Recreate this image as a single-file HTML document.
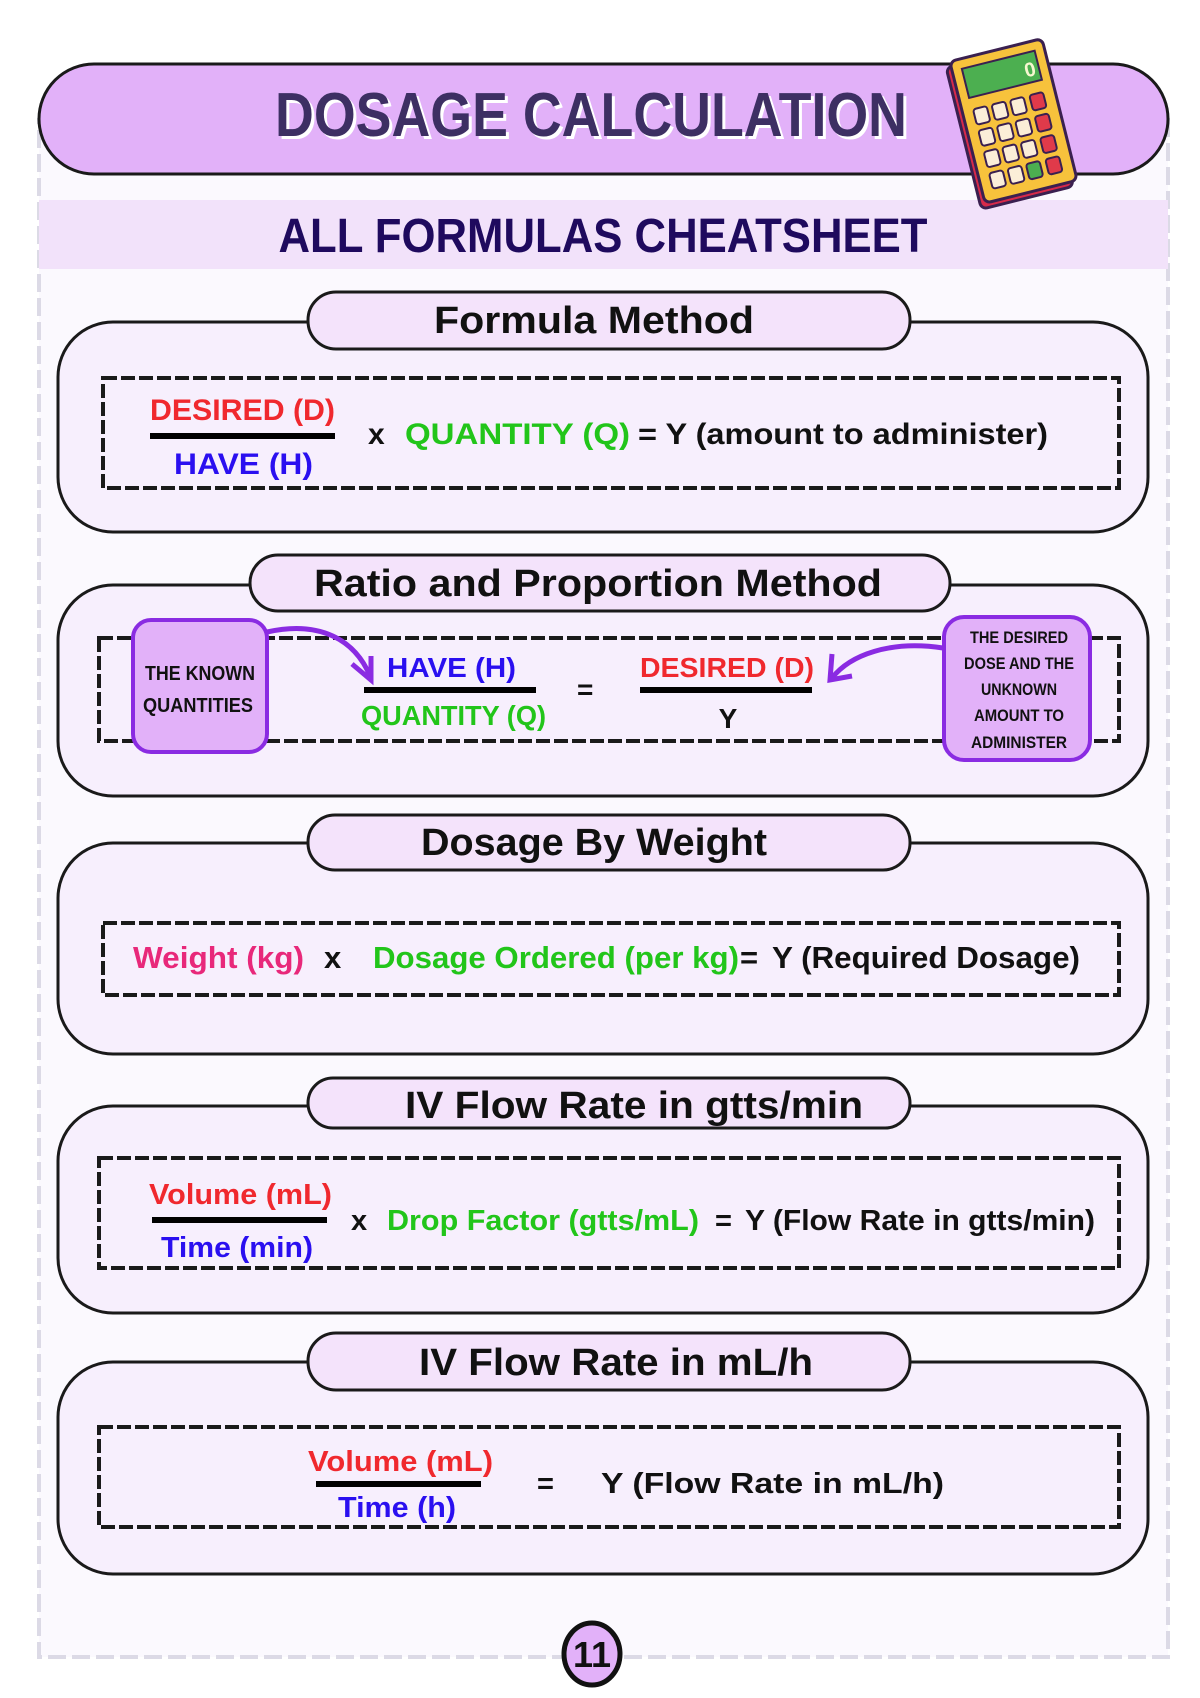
<!DOCTYPE html>
<html><head><meta charset="utf-8"><style>
html,body{margin:0;padding:0;background:#fff;}
svg{display:block;}
text{font-family:"Liberation Sans",sans-serif;}
</style></head><body>
<svg width="1200" height="1698" viewBox="0 0 1200 1698" xmlns="http://www.w3.org/2000/svg">
<!-- page -->
<rect x="39" y="120" width="1129" height="1537" fill="#fbf9fe" stroke="#dcdae6" stroke-width="4" stroke-dasharray="18,6"/>
<!-- header pill -->
<rect x="39" y="64" width="1129" height="110" rx="55" fill="#e2b1f9" stroke="#1a1a1a" stroke-width="3"/>
<text x="594" y="139" font-size="62" font-weight="bold" fill="#fff" text-anchor="middle" textLength="632" lengthAdjust="spacingAndGlyphs">DOSAGE CALCULATION</text>
<text x="591" y="136" font-size="62" font-weight="bold" fill="#3d2f63" text-anchor="middle" textLength="632" lengthAdjust="spacingAndGlyphs">DOSAGE CALCULATION</text>
<!-- band -->
<rect x="39" y="200" width="1129" height="69" fill="#f2e2fa"/>
<text x="603" y="252" font-size="48" font-weight="bold" fill="#1f0a5e" text-anchor="middle" textLength="649" lengthAdjust="spacingAndGlyphs">ALL FORMULAS CHEATSHEET</text>
<!-- calculator -->
<g transform="rotate(-14 1013 121)">
<rect x="961" y="53" width="95" height="146" rx="6" fill="#d62a4a" stroke="#3a2050" stroke-width="3"/>
<rect x="966" y="48" width="95" height="146" rx="6" fill="#f7c23c" stroke="#3a2050" stroke-width="3"/>
<rect x="976" y="58" width="75" height="30" fill="#4caf50" stroke="#3a2050" stroke-width="2"/>
<text x="1042" y="82" font-size="20" font-weight="bold" fill="#f7f7d0" text-anchor="middle">0</text>
<g fill="#fbeed8" stroke="#3a2050" stroke-width="2">
<rect x="977" y="100" width="14" height="16" rx="3"/><rect x="996" y="100" width="14" height="16" rx="3"/><rect x="1015" y="100" width="14" height="16" rx="3"/>
<rect x="977" y="122" width="14" height="16" rx="3"/><rect x="996" y="122" width="14" height="16" rx="3"/><rect x="1015" y="122" width="14" height="16" rx="3"/>
<rect x="977" y="144" width="14" height="16" rx="3"/><rect x="996" y="144" width="14" height="16" rx="3"/><rect x="1015" y="144" width="14" height="16" rx="3"/>
<rect x="977" y="166" width="14" height="16" rx="3"/><rect x="996" y="166" width="14" height="16" rx="3"/>
</g>
<g stroke="#3a2050" stroke-width="2"><rect x="1035" y="100" width="14" height="16" rx="3" fill="#e03a4a"/><rect x="1035" y="122" width="14" height="16" rx="3" fill="#e03a4a"/><rect x="1035" y="144" width="14" height="16" rx="3" fill="#e03a4a"/><rect x="1035" y="166" width="14" height="16" rx="3" fill="#e03a4a"/><rect x="1015" y="166" width="14" height="16" rx="3" fill="#4caf50"/></g>
</g>

<g stroke="#1a1a1a" stroke-width="3">
<!-- section outers -->
<rect x="58" y="322" width="1090" height="210" rx="55" fill="#f7effd"/>
<rect x="58" y="585" width="1090" height="211" rx="55" fill="#f7effd"/>
<rect x="58" y="843" width="1090" height="211" rx="55" fill="#f7effd"/>
<rect x="58" y="1106" width="1090" height="207" rx="55" fill="#f7effd"/>
<rect x="58" y="1362" width="1090" height="212" rx="55" fill="#f7effd"/>
<!-- pills -->
<rect x="308" y="292" width="602" height="57" rx="28" fill="#f4e3fb"/>
<rect x="250" y="555" width="700" height="56" rx="28" fill="#f4e3fb"/>
<rect x="308" y="815" width="602" height="55" rx="27" fill="#f4e3fb"/>
<rect x="308" y="1078" width="602" height="50" rx="25" fill="#f4e3fb"/>
<rect x="308" y="1333" width="602" height="57" rx="28" fill="#f4e3fb"/>
</g>
<g fill="none" stroke="#1a1a1a" stroke-width="4" stroke-dasharray="14,4">
<rect x="103" y="378" width="1016" height="110"/>
<rect x="99" y="638" width="1020" height="103"/>
<rect x="103" y="923" width="1016" height="72"/>
<rect x="99" y="1158" width="1020" height="110"/>
<rect x="99" y="1427" width="1020" height="100"/>
</g>
<!-- titles -->
<g font-size="38" font-weight="bold" fill="#111" text-anchor="middle">
<text x="594" y="333" textLength="320" lengthAdjust="spacingAndGlyphs">Formula Method</text>
<text x="598" y="596" textLength="568" lengthAdjust="spacingAndGlyphs">Ratio and Proportion Method</text>
<text x="594" y="855" textLength="346" lengthAdjust="spacingAndGlyphs">Dosage By Weight</text>
<text x="634" y="1118" textLength="458" lengthAdjust="spacingAndGlyphs">IV Flow Rate in gtts/min</text>
<text x="616" y="1375" textLength="394" lengthAdjust="spacingAndGlyphs">IV Flow Rate in mL/h</text>
</g>
<!-- S1 -->
<g font-size="30" font-weight="bold">
<text x="150" y="420" fill="#f0282e" textLength="185" lengthAdjust="spacingAndGlyphs">DESIRED (D)</text>
<rect x="150" y="433" width="185" height="6" fill="#000"/>
<text x="174" y="474" fill="#2a0ff0" textLength="139" lengthAdjust="spacingAndGlyphs">HAVE (H)</text>
<text x="368" y="444" fill="#111">x</text>
<text x="405" y="444" fill="#22c51a" textLength="225" lengthAdjust="spacingAndGlyphs">QUANTITY (Q)</text>
<text x="638" y="444" fill="#111" textLength="410" lengthAdjust="spacingAndGlyphs">=  Y (amount to administer)</text>
</g>
<!-- S2 -->
<path d="M267 632 C320 620 355 640 370 676" fill="none" stroke="#8a2be2" stroke-width="5"/>
<path d="M352 664 L371 680 L371 656" fill="none" stroke="#8a2be2" stroke-width="5"/>
<path d="M943 648 C890 640 850 655 832 678" fill="none" stroke="#8a2be2" stroke-width="5"/>
<path d="M832 654 L830 680 L852 676" fill="none" stroke="#8a2be2" stroke-width="5"/>
<rect x="133" y="620" width="134" height="132" rx="18" fill="#e2b1f9" stroke="#8a2be2" stroke-width="4"/>
<rect x="944" y="617" width="146" height="143" rx="20" fill="#e2b1f9" stroke="#8a2be2" stroke-width="4"/>
<g font-size="20" font-weight="bold" fill="#111" text-anchor="middle">
<text x="200" y="680" textLength="110" lengthAdjust="spacingAndGlyphs">THE KNOWN</text>
<text x="198" y="712" textLength="110" lengthAdjust="spacingAndGlyphs">QUANTITIES</text>
</g>
<g font-size="17" font-weight="bold" fill="#111" text-anchor="middle">
<text x="1019" y="643" textLength="98" lengthAdjust="spacingAndGlyphs">THE DESIRED</text>
<text x="1019" y="669" textLength="110" lengthAdjust="spacingAndGlyphs">DOSE AND THE</text>
<text x="1019" y="695" textLength="76" lengthAdjust="spacingAndGlyphs">UNKNOWN</text>
<text x="1019" y="721" textLength="90" lengthAdjust="spacingAndGlyphs">AMOUNT TO</text>
<text x="1019" y="748" textLength="96" lengthAdjust="spacingAndGlyphs">ADMINISTER</text>
</g>
<g font-size="28" font-weight="bold">
<text x="387" y="677" fill="#2a0ff0" textLength="129" lengthAdjust="spacingAndGlyphs">HAVE (H)</text>
<rect x="364" y="687" width="172" height="6" fill="#000"/>
<text x="361" y="725" fill="#22c51a" textLength="185" lengthAdjust="spacingAndGlyphs">QUANTITY (Q)</text>
<text x="577" y="699" fill="#111">=</text>
<text x="640" y="677" fill="#f0282e" textLength="174" lengthAdjust="spacingAndGlyphs">DESIRED (D)</text>
<rect x="640" y="687" width="172" height="6" fill="#000"/>
<text x="728" y="728" fill="#111" text-anchor="middle">Y</text>
</g>
<!-- S3 -->
<g font-size="31" font-weight="bold">
<text x="133" y="968" fill="#e8287a" textLength="171" lengthAdjust="spacingAndGlyphs">Weight (kg)</text>
<text x="324" y="968" fill="#111">x</text>
<text x="373" y="968" fill="#22c51a" textLength="366" lengthAdjust="spacingAndGlyphs">Dosage Ordered (per kg)</text>
<text x="740" y="968" fill="#111">=</text>
<text x="772" y="968" fill="#111" textLength="308" lengthAdjust="spacingAndGlyphs">Y (Required Dosage)</text>
</g>
<!-- S4 -->
<g font-size="29" font-weight="bold">
<text x="149" y="1204" fill="#f0282e" textLength="183" lengthAdjust="spacingAndGlyphs">Volume (mL)</text>
<rect x="152" y="1217" width="175" height="6" fill="#000"/>
<text x="161" y="1257" fill="#2a0ff0" textLength="152" lengthAdjust="spacingAndGlyphs">Time (min)</text>
<text x="351" y="1230" fill="#111">x</text>
<text x="387" y="1230" fill="#22c51a" textLength="312" lengthAdjust="spacingAndGlyphs">Drop Factor (gtts/mL)</text>
<text x="715" y="1230" fill="#111">=</text>
<text x="745" y="1230" fill="#111" textLength="350" lengthAdjust="spacingAndGlyphs">Y (Flow Rate in gtts/min)</text>
</g>
<!-- S5 -->
<g font-size="29" font-weight="bold">
<text x="308" y="1471" fill="#f0282e" textLength="185" lengthAdjust="spacingAndGlyphs">Volume (mL)</text>
<rect x="316" y="1481" width="165" height="6" fill="#000"/>
<text x="338" y="1517" fill="#2a0ff0" textLength="118" lengthAdjust="spacingAndGlyphs">Time (h)</text>
<text x="537" y="1493" fill="#111">=</text>
<text x="601" y="1493" fill="#111" textLength="343" lengthAdjust="spacingAndGlyphs">Y (Flow Rate in mL/h)</text>
</g>
<!-- page number -->
<ellipse cx="592" cy="1654" rx="28" ry="31" fill="#e2b1f9" stroke="#111" stroke-width="5"/>
<text x="592" y="1667" font-size="36" font-weight="bold" fill="#111" text-anchor="middle">11</text>
</svg>
</body></html>
